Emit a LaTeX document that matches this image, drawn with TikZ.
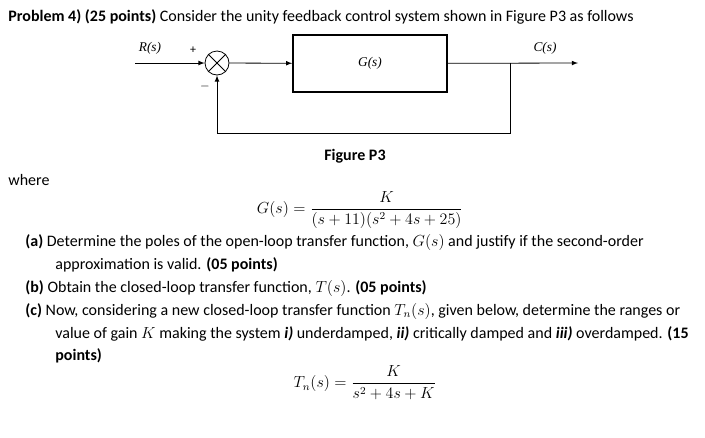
\documentclass[tikz,border=0pt]{standalone}
\usepackage{amsmath}
\usepackage{fontspec}
\setmainfont{Carlito}
\newfontfamily\tms{Liberation Serif}
\usetikzlibrary{positioning}
\tikzset{
  blk/.style={draw,line width=1.2pt,minimum width=115.5pt,minimum height=42.75pt},
  sumj/.style={draw,circle,minimum size=18pt,inner sep=0pt},
  sig/.style={font=\tms\itshape\fontsize{10}{11}\selectfont},
  ln/.style={anchor=west,inner sep=0pt,font=\fontsize{12}{14}\selectfont},
  eqn/.style={inner sep=0pt,font=\fontsize{11.5}{13}\selectfont},
  sgn/.style={inner sep=0pt,font=\fontsize{9}{10}\selectfont}
}
\begin{document}
\begin{tikzpicture}[x=0.75pt,y=-0.75pt,line width=0.6pt]
  \useasboundingbox (0,0) rectangle (705,437);
  \node[ln] (title) at (8,17) {\textbf{Problem 4) (25 points)} Consider the unity feedback control system shown in Figure P3 as follows};
  % block diagram
  \coordinate (in) at (135,63);
  \node[sumj] (S) at (217,63) {};
  \draw (S.north west) -- (S.south east);
  \draw (S.north east) -- (S.south west);
  \node[blk] (G) at (370,63.5) {\tms\itshape\fontsize{10}{11}\selectfont G(s)};
  \coordinate (out) at (578,63);
  \coordinate (br) at (510,63);
  \coordinate (fb) at (510,133);
  \coordinate (fb2) at (217,133);
  \node[sig] (R) at (150,48) {R(s)};
  \node[sig] (C) at (545,48) {C(s)};
  \node[sgn] (plus) at (193,50) {+};
  \node[sgn] (minus) at (205,86) {$-$};
  \draw[-latex] (in) -- (S);
  \draw[-latex] (S) -- (G);
  \draw[-latex] (G) -- (out);
  \draw[-latex] (br) -- (fb) -- (fb2) -- (S);
  \node[inner sep=0pt,font=\bfseries\fontsize{12}{14}\selectfont] (fig) at (355,156) {Figure P3};
  \node[ln] (where) at (8,180) {where};
  \node[eqn] (Geq) at (360,210) {$G(s)=\dfrac{K}{(s+11)(s^2+4s+25)}$};
  \node[ln] (a1) at (25,242) {\textbf{(a)} Determine the poles of the open-loop transfer function, $G(s)$ and justify if the second-order};
  \node[ln] (a2) at (55,265) {approximation is valid. \textbf{(05 points)}};
  \node[ln] (b1) at (25,288) {\textbf{(b)} Obtain the closed-loop transfer function, $T(s)$. \textbf{(05 points)}};
  \node[ln] (c1) at (25,311) {\textbf{(c)} Now, considering a new closed-loop transfer function $T_n(s)$, given below, determine the ranges or};
  \node[ln] (c2) at (55,334) {value of gain $K$ making the system \textbf{\textit{i)}} underdamped, \textbf{\textit{ii)}} critically damped and \textbf{\textit{iii)}} overdamped. \textbf{(15}};
  \node[ln] (c3) at (55,356) {\textbf{points)}};
  \node[eqn] (Teq) at (365,383) {$T_n(s)=\dfrac{K}{s^2+4s+K}$};
\end{tikzpicture}
\end{document}
